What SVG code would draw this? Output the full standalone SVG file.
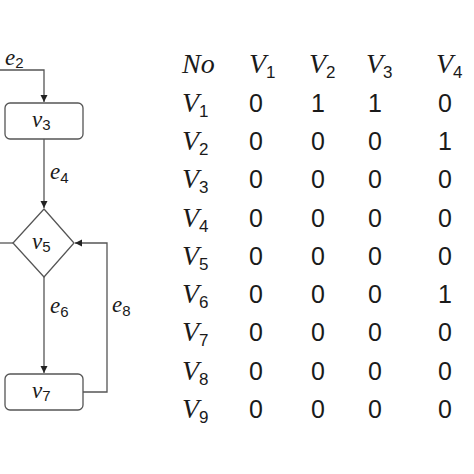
<svg xmlns="http://www.w3.org/2000/svg" width="474" height="474" viewBox="0 0 474 474">
<defs>
<marker id="arr" markerWidth="8" markerHeight="8" refX="7" refY="3.5" orient="auto" markerUnits="userSpaceOnUse">
<path d="M0,0 L7,3.5 L0,7 Z" fill="#222"/>
</marker>
<style>
.ln{fill:none;stroke:#555;stroke-width:1.3}
.nd{fill:#fff;stroke:#555;stroke-width:1.3}
.it{font-family:"Liberation Serif","DejaVu Serif",serif;font-style:italic;fill:#1a1a1a}
.lb{font-size:23px}
.hd{font-size:28px}
.sb{font-family:"Liberation Sans","DejaVu Sans",sans-serif;font-style:normal}
.lsb{font-size:15px}
.hsb{font-size:17px}
.dg{font-family:"Liberation Sans","DejaVu Sans",sans-serif;font-size:25px;fill:#1a1a1a;text-anchor:middle}
</style>
</defs>
<rect width="474" height="474" fill="#fff"/>
<g id="connectors">
<polyline class="ln" points="0,70 44,70 44,102" marker-end="url(#arr)"/>
<line class="ln" x1="44" y1="139" x2="44" y2="208" marker-end="url(#arr)"/>
<line class="ln" x1="0" y1="243" x2="13" y2="243"/>
<line class="ln" x1="44" y1="277" x2="44" y2="373" marker-end="url(#arr)"/>
<polyline class="ln" points="83,392 107,392 107,243 75,243" marker-end="url(#arr)"/>
<text class="it lb" x="5" y="65">e<tspan class="sb lsb" dy="3">2</tspan></text>
<text class="it lb" x="50" y="179">e<tspan class="sb lsb" dy="4">4</tspan></text>
<text class="it lb" x="50" y="313">e<tspan class="sb lsb" dy="4">6</tspan></text>
<text class="it lb" x="112" y="312">e<tspan class="sb lsb" dy="4">8</tspan></text>
</g>
<g id="v3">
<rect class="nd" x="5" y="103" width="78" height="36" rx="5"/>
<text class="it lb" x="32" y="127">v<tspan class="sb lsb" dy="3">3</tspan></text>
</g>
<g id="v5">
<polygon class="nd" points="44,209 74,243 44,277 13,243"/>
<text class="it lb" x="32" y="249">v<tspan class="sb lsb" dy="3">5</tspan></text>
</g>
<g id="v7">
<rect class="nd" x="5" y="374" width="78" height="36" rx="5"/>
<text class="it lb" x="32" y="398">v<tspan class="sb lsb" dy="3">7</tspan></text>
</g>
<g id="table">
<text class="it hd" x="182" y="73">No</text>
<text class="it hd" x="249" y="73">V<tspan class="sb hsb" dy="5">1</tspan></text>
<text class="it hd" x="309" y="73">V<tspan class="sb hsb" dy="5">2</tspan></text>
<text class="it hd" x="366" y="73">V<tspan class="sb hsb" dy="5">3</tspan></text>
<text class="it hd" x="436" y="73">V<tspan class="sb hsb" dy="5">4</tspan></text>
<text class="it hd" x="182" y="112">V<tspan class="sb hsb" dy="5">1</tspan></text>
<text class="it hd" x="182" y="150">V<tspan class="sb hsb" dy="5">2</tspan></text>
<text class="it hd" x="182" y="188">V<tspan class="sb hsb" dy="5">3</tspan></text>
<text class="it hd" x="182" y="227">V<tspan class="sb hsb" dy="5">4</tspan></text>
<text class="it hd" x="182" y="265">V<tspan class="sb hsb" dy="5">5</tspan></text>
<text class="it hd" x="182" y="303">V<tspan class="sb hsb" dy="5">6</tspan></text>
<text class="it hd" x="182" y="341">V<tspan class="sb hsb" dy="5">7</tspan></text>
<text class="it hd" x="182" y="380">V<tspan class="sb hsb" dy="5">8</tspan></text>
<text class="it hd" x="182" y="418">V<tspan class="sb hsb" dy="5">9</tspan></text>
<g class="dg">
<text x="256" y="112">0</text><text x="318" y="112">1</text><text x="375" y="112">1</text><text x="445" y="112">0</text>
<text x="256" y="150">0</text><text x="318" y="150">0</text><text x="375" y="150">0</text><text x="445" y="150">1</text>
<text x="256" y="188">0</text><text x="318" y="188">0</text><text x="375" y="188">0</text><text x="445" y="188">0</text>
<text x="256" y="227">0</text><text x="318" y="227">0</text><text x="375" y="227">0</text><text x="445" y="227">0</text>
<text x="256" y="265">0</text><text x="318" y="265">0</text><text x="375" y="265">0</text><text x="445" y="265">0</text>
<text x="256" y="303">0</text><text x="318" y="303">0</text><text x="375" y="303">0</text><text x="445" y="303">1</text>
<text x="256" y="341">0</text><text x="318" y="341">0</text><text x="375" y="341">0</text><text x="445" y="341">0</text>
<text x="256" y="380">0</text><text x="318" y="380">0</text><text x="375" y="380">0</text><text x="445" y="380">0</text>
<text x="256" y="418">0</text><text x="318" y="418">0</text><text x="375" y="418">0</text><text x="445" y="418">0</text>
</g>
</g>
</svg>
